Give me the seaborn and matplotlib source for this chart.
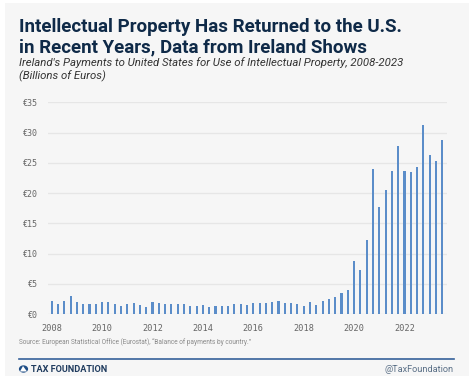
import matplotlib
matplotlib.use("Agg")
import matplotlib.pyplot as plt
import seaborn as sns
import pandas as pd
import numpy as np
from matplotlib.patches import Rectangle, Circle, Polygon

# ---- data (quarterly, billions of euros) ----
years = list(range(2008, 2024))
values = [
    2.2, 1.7, 2.1, 3.0,     # 2008
    2.0, 1.6, 1.6, 1.7,     # 2009
    2.0, 2.0, 1.6, 1.4,     # 2010
    1.6, 1.9, 1.5, 1.2,     # 2011
    2.0, 1.85, 1.7, 1.6,    # 2012
    1.7, 1.6, 1.3, 1.3,     # 2013
    1.5, 1.2, 1.3, 1.3,     # 2014
    1.4, 1.6, 1.6, 1.5,     # 2015
    1.8, 1.9, 1.8, 2.0,     # 2016
    2.1, 1.9, 1.8, 1.7,     # 2017
    1.3, 2.0, 1.5, 2.2,     # 2018
    2.4, 2.8, 3.5, 4.0,     # 2019
    8.7, 7.2, 12.3, 23.9,   # 2020
    17.7, 20.5, 23.7, 27.8, # 2021
    23.7, 23.5, 24.3, 31.2, # 2022
    26.3, 25.3, 28.8,       # 2023
]
quarters = [f"{y}Q{q}" for y in years for q in range(1, 5)][:len(values)]
tick_years = [2008, 2010, 2012, 2014, 2016, 2018, 2020, 2022]
y_ticks = [0, 5, 10, 15, 20, 25, 30, 35]

df = pd.DataFrame({"quarter": quarters, "value": values})

W, H = 474, 379
fig = plt.figure(figsize=(W / 100, H / 100), dpi=100)
fig.patch.set_facecolor("white")
BG = "#f6f6f6"
fig.patches.append(Rectangle((5 / W, 3 / H), (469 - 5) / W, (376 - 3) / H,
                             transform=fig.transFigure, facecolor=BG,
                             edgecolor="none", zorder=-10))

def fx(px):
    return px / W

def fy(py):
    return 1 - py / H

# axes: x from 48 to 447 px, y from 102.3 (35) to 314 (0)
ax_left, ax_right = 48, 447
ax_top, ax_bottom = 102.3, 314
ax = fig.add_axes([fx(ax_left), fy(ax_bottom), (ax_right - ax_left) / W,
                   (ax_bottom - ax_top) / H])
ax.set_facecolor("none")
ax.set_zorder(5)

sns.barplot(data=df, x="quarter", y="value", color="#5b8dc9", saturation=1,
            width=0.34, ax=ax, zorder=3)

n = len(values)
ax.set_xlim(-0.59, n - 1 + 0.75)
ax.set_ylim(0, 35)
ax.set_yticks(y_ticks)
ax.set_yticklabels([f"€{v}" for v in y_ticks], family="DejaVu Sans Mono",
                   fontsize=6, color="#666666")
pos = [quarters.index(f"{y}Q1") for y in tick_years]
ax.set_xticks(pos)
ax.set_xticklabels([str(y) for y in tick_years], family="DejaVu Sans Mono",
                   fontsize=6.2, color="#666666")
ax.tick_params(axis="both", length=0)
ax.tick_params(axis="y", pad=7.5)
ax.tick_params(axis="x", pad=7.5)
ax.grid(axis="y", color="#e6e6e6", linewidth=0.9, zorder=0)
ax.grid(axis="x", visible=False)
ax.set_axisbelow(True)
for s in ax.spines.values():
    s.set_visible(False)
ax.set_xlabel("")
ax.set_ylabel("")

# titles
navy = "#0f2a48"
fig.text(fx(19), fy(32), "Intellectual Property Has Returned to the U.S.",
         family="Roboto", weight="bold", fontsize=13.5, color=navy, va="baseline")
fig.text(fx(19), fy(52), "in Recent Years, Data from Ireland Shows",
         family="Roboto", weight="bold", fontsize=13.5, color=navy, va="baseline")
fig.text(fx(19), fy(66.5),
         "Ireland's Payments to United States for Use of Intellectual Property, 2008-2023",
         family="Roboto", style="italic", fontsize=8.2, color="#333333", va="baseline")
fig.text(fx(19), fy(79), "(Billions of Euros)",
         family="Roboto", style="italic", fontsize=8.2, color="#333333", va="baseline")

# source
fig.text(fx(19), fy(344),
         "Source: European Statistical Office (Eurostat), \u201cBalance of payments by country.\u201d",
         family="Roboto", fontsize=4.7, color="#8a8a8a", va="baseline")

# footer line
fig.add_artist(plt.Line2D([fx(19), fx(454)], [fy(359), fy(359)],
                          transform=fig.transFigure, color="#35609a", linewidth=1.2))

# logo
circ = Circle((fx(23.5), fy(369)), 4.6 / W, transform=fig.transFigure,
              facecolor="#1f4e86", edgecolor="none")
fig.patches.append(circ)
tri = Polygon([(fx(20), fy(371.5)), (fx(23), fy(366)), (fx(27), fy(371.5))],
              closed=True, transform=fig.transFigure, facecolor="white",
              edgecolor="none")
fig.patches.append(tri)
fig.text(fx(31), fy(372), "TAX FOUNDATION", family="Roboto", weight="bold",
         fontsize=6.6, color="#1f3b5e", va="baseline")
fig.text(fx(454), fy(372), "@TaxFoundation", family="Roboto",
         fontsize=6.6, color="#5a6f86", va="baseline", ha="right")

fig.savefig("out.png", dpi=100, facecolor=fig.get_facecolor())
